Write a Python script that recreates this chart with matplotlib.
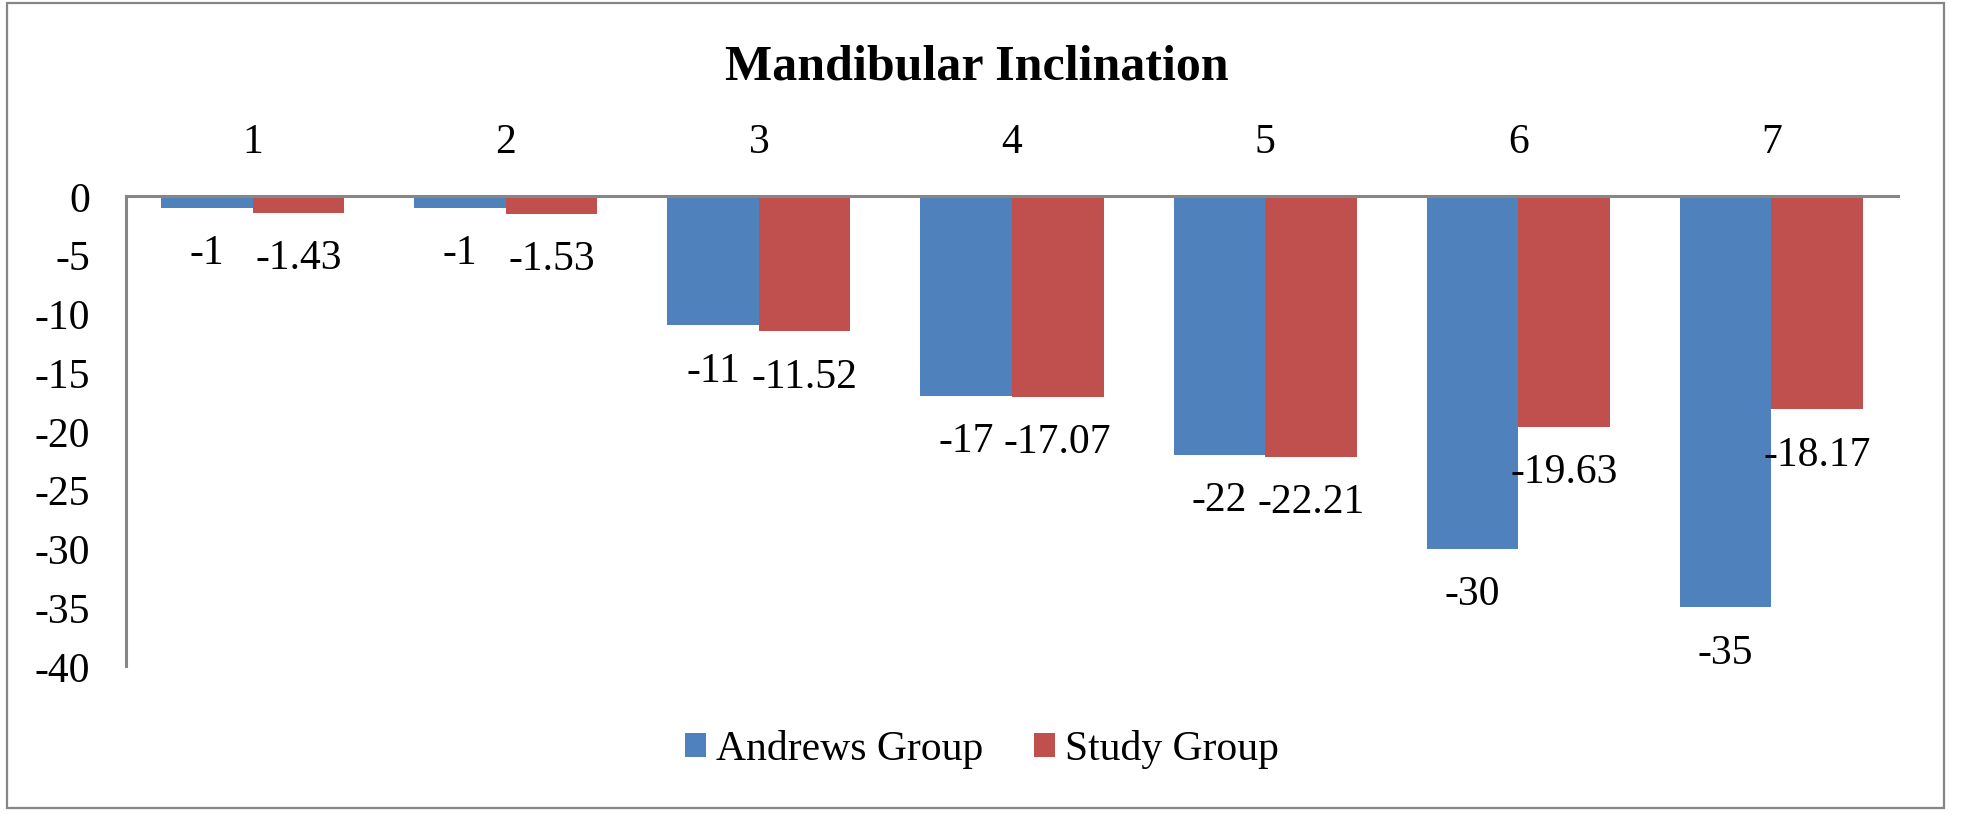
import matplotlib
matplotlib.use('Agg')
import matplotlib.pyplot as plt
import numpy as np
from matplotlib.patches import Rectangle

plt.rcParams['font.family'] = ['Liberation Serif', 'DejaVu Serif']

# data
categories = ['1', '2', '3', '4', '5', '6', '7']
andrews = [-1, -1, -11, -17, -22, -30, -35]
study = [-1.43, -1.53, -11.52, -17.07, -22.21, -19.63, -18.17]
series_names = ['Andrews Group', 'Study Group']
yticks = [0, -5, -10, -15, -20, -25, -30, -35, -40]

blue = '#4F81BD'
red = '#C0504D'
grey = '#868686'

W, H = 1967, 820
fig = plt.figure(figsize=(W / 100, H / 100), dpi=100)

# chart frame
fig.patches.append(Rectangle((7 / W, 1 - 809 / H), (1944 - 7) / W, (809 - 4) / H,
                             transform=fig.transFigure, fill=False,
                             edgecolor=grey, linewidth=1.6, zorder=0))

ax = fig.add_axes([126 / W, 1 - 667 / H, (1898 - 126) / W, (667 - 197) / H])

x = np.arange(len(categories))
w = 0.3615
b1 = ax.bar(x - w / 2, andrews, w, color=blue, label=series_names[0], zorder=2)
b2 = ax.bar(x + w / 2, study, w, color=red, label=series_names[1], zorder=2)

# data labels below bar ends
for bars, vals in [(b1, andrews), (b2, study)]:
    for rect, v in zip(bars, vals):
        ax.annotate('{:g}'.format(v), xy=(rect.get_x() + rect.get_width() / 2, v),
                    xytext=(0, -32.4), textcoords='offset points',
                    ha='center', va='center', fontsize=30, zorder=3)

ax.set_xlim(-0.5, len(categories) - 0.5)
ax.set_ylim(-40, 0)
ax.set_yticks(yticks)
ax.set_yticklabels([str(t) for t in yticks])
ax.set_xticks(x)
ax.set_xticklabels(categories)
ax.xaxis.tick_top()
ax.tick_params(axis='x', length=0, pad=25, labelsize=30)
ax.tick_params(axis='y', length=0, pad=26, labelsize=30)

for s in ['bottom', 'right']:
    ax.spines[s].set_visible(False)
for s in ['top', 'left']:
    ax.spines[s].set_color(grey)
    ax.spines[s].set_linewidth(2.2)

fig.text(977 / W, 1 - 68 / H, 'Mandibular Inclination', ha='center', va='center',
         fontsize=36, fontweight='bold')

fig.legend(handles=[b1, b2], labels=series_names, loc='center',
           bbox_to_anchor=(982 / W, 1 - 750 / H), ncol=2, frameon=False,
           fontsize=30, handlelength=0.5, handleheight=0.5,
           handletextpad=0.25, columnspacing=1.2, borderaxespad=0)

plt.savefig('out.png', dpi=100)
